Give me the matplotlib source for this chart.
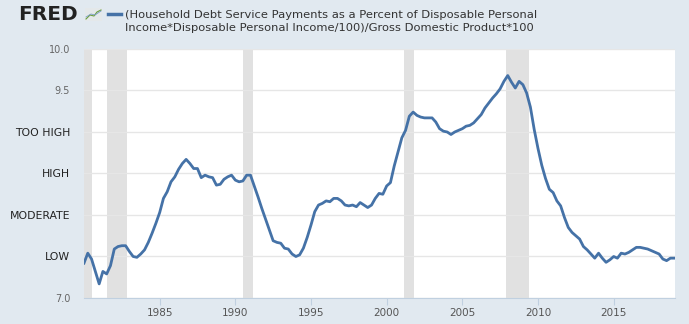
import numpy as np
import pandas as pd
import matplotlib
matplotlib.use("Agg")
import matplotlib.pyplot as plt
from matplotlib.lines import Line2D
from matplotlib.patches import Rectangle

# quarterly values, 1980Q1 .. 2019Q1
start = "1980-01-01"
values = [
    7.42, 7.54, 7.47, 7.32,   # 1980
    7.17, 7.32, 7.29, 7.39,   # 1981
    7.59, 7.62, 7.63, 7.63,   # 1982
    7.56, 7.50, 7.49, 7.53,   # 1983
    7.58, 7.67, 7.78, 7.90,   # 1984
    8.03, 8.20, 8.28, 8.40,   # 1985
    8.46, 8.55, 8.62, 8.67,   # 1986
    8.62, 8.56, 8.56, 8.45,   # 1987
    8.48, 8.46, 8.45, 8.36,   # 1988
    8.37, 8.43, 8.46, 8.48,   # 1989
    8.42, 8.40, 8.41, 8.48,   # 1990
    8.48, 8.35, 8.22, 8.08,   # 1991
    7.95, 7.82, 7.69, 7.67,   # 1992
    7.66, 7.60, 7.59, 7.53,   # 1993
    7.50, 7.52, 7.60, 7.73,   # 1994
    7.88, 8.04, 8.12, 8.14,   # 1995
    8.17, 8.16, 8.20, 8.20,   # 1996
    8.17, 8.12, 8.11, 8.12,   # 1997
    8.10, 8.15, 8.12, 8.09,   # 1998
    8.12, 8.20, 8.26, 8.25,   # 1999
    8.35, 8.39, 8.59, 8.76,   # 2000
    8.93, 9.02, 9.19, 9.24,   # 2001
    9.20, 9.18, 9.17, 9.17,   # 2002
    9.17, 9.12, 9.04, 9.01,   # 2003
    9.00, 8.97, 9.00, 9.02,   # 2004
    9.04, 9.07, 9.08, 9.11,   # 2005
    9.16, 9.21, 9.29, 9.35,   # 2006
    9.41, 9.46, 9.52, 9.61,   # 2007
    9.68, 9.60, 9.53, 9.61,   # 2008
    9.57, 9.47, 9.30, 9.03,   # 2009
    8.80, 8.60, 8.44, 8.31,   # 2010
    8.27, 8.17, 8.11, 7.97,   # 2011
    7.85, 7.79, 7.75, 7.71,   # 2012
    7.62, 7.58, 7.53, 7.48,   # 2013
    7.54, 7.48, 7.43, 7.46,   # 2014
    7.50, 7.48, 7.54, 7.53,   # 2015
    7.55, 7.58, 7.61, 7.61,   # 2016
    7.60, 7.59, 7.57, 7.55,   # 2017
    7.53, 7.47, 7.45, 7.48,   # 2018
    7.48,                     # 2019
]
dates = pd.date_range(start, periods=len(values), freq="QS")

recessions = [("1980-01-01", "1980-07-01"), ("1981-07-01", "1982-11-01"),
              ("1990-07-01", "1991-03-01"), ("2001-03-01", "2001-11-01"),
              ("2007-12-01", "2009-06-01")]

ytick_vals = [7.0, 7.5, 8.0, 8.5, 9.0, 9.5, 10.0]
ytick_labels = ["7.0", "LOW", "MODERATE", "HIGH", "TOO HIGH", "9.5", "10.0"]
xtick_years = [1985, 1990, 1995, 2000, 2005, 2010, 2015]

title = ("(Household Debt Service Payments as a Percent of Disposable Personal\n"
         "Income*Disposable Personal Income/100)/Gross Domestic Product*100")

bg = "#e1e9f0"
blue = "#4572a7"

fig = plt.figure(figsize=(6.89, 3.24), dpi=100, facecolor=bg)
ax = fig.add_axes([84 / 689, 26 / 324, 591 / 689, 249 / 324])
ax.set_facecolor("white")

for a, b in recessions:
    ax.axvspan(pd.Timestamp(a), pd.Timestamp(b), color="#e1e1e1", lw=0, zorder=1)

ax.plot(dates, values, color=blue, lw=2.0, zorder=3, solid_joinstyle="round")

ax.set_xlim(pd.Timestamp("1980-01-01"), pd.Timestamp("2019-01-20"))
ax.set_ylim(7.0, 10.0)
ax.set_yticks(ytick_vals)
ax.set_yticklabels(ytick_labels)
ax.set_xticks([pd.Timestamp(f"{y}-01-01") for y in xtick_years])
ax.set_xticklabels([str(y) for y in xtick_years])

ax.grid(axis="y", color="#e6e6e6", lw=1, zorder=0)
for s in ["top", "right", "left"]:
    ax.spines[s].set_visible(False)
ax.spines["bottom"].set_color("#c0d0e0")
ax.tick_params(axis="y", length=0, pad=10)
ax.tick_params(axis="x", length=5, color="#c0d0e0", labelsize=7.5,
               labelcolor="#555555", pad=2)

for lbl in ax.get_yticklabels():
    if lbl.get_text()[0].isdigit():
        lbl.set_fontsize(7)
        lbl.set_color("#666666")
    else:
        lbl.set_fontsize(7.8)
        lbl.set_color("#222222")

# header: FRED logo and legend
fig.text(18 / 689, 1 - 14 / 324, "FRED", fontsize=14.5, fontweight="heavy",
         color="#222222", va="center", ha="left", family="DejaVu Sans")
fig.add_artist(Rectangle((85 / 689, 1 - 21 / 324), 17 / 689, 13 / 324,
                         transform=fig.transFigure, facecolor="#e4e8ea",
                         edgecolor="none"))
fig.add_artist(Line2D([86 / 689, 90 / 689, 94 / 689, 97 / 689, 101 / 689],
                      [1 - 19 / 324, 1 - 15 / 324, 1 - 16 / 324, 1 - 12 / 324, 1 - 10 / 324],
                      transform=fig.transFigure, color="#6a9f3a", lw=0.8))
fig.add_artist(Line2D([86 / 689, 91 / 689, 95 / 689, 101 / 689],
                      [1 - 17 / 324, 1 - 14 / 324, 1 - 15 / 324, 1 - 11 / 324],
                      transform=fig.transFigure, color="#7a9cc6", lw=0.6))
fig.add_artist(Line2D([108 / 689, 121 / 689], [1 - 14 / 324, 1 - 14 / 324],
                      transform=fig.transFigure, color=blue, lw=2.5))
fig.text(125 / 689, 1 - 21.5 / 324, title, fontsize=8.25, color="#333333",
         va="center", ha="left", linespacing=1.4)

fig.savefig("out.png", dpi=100, facecolor=bg)
